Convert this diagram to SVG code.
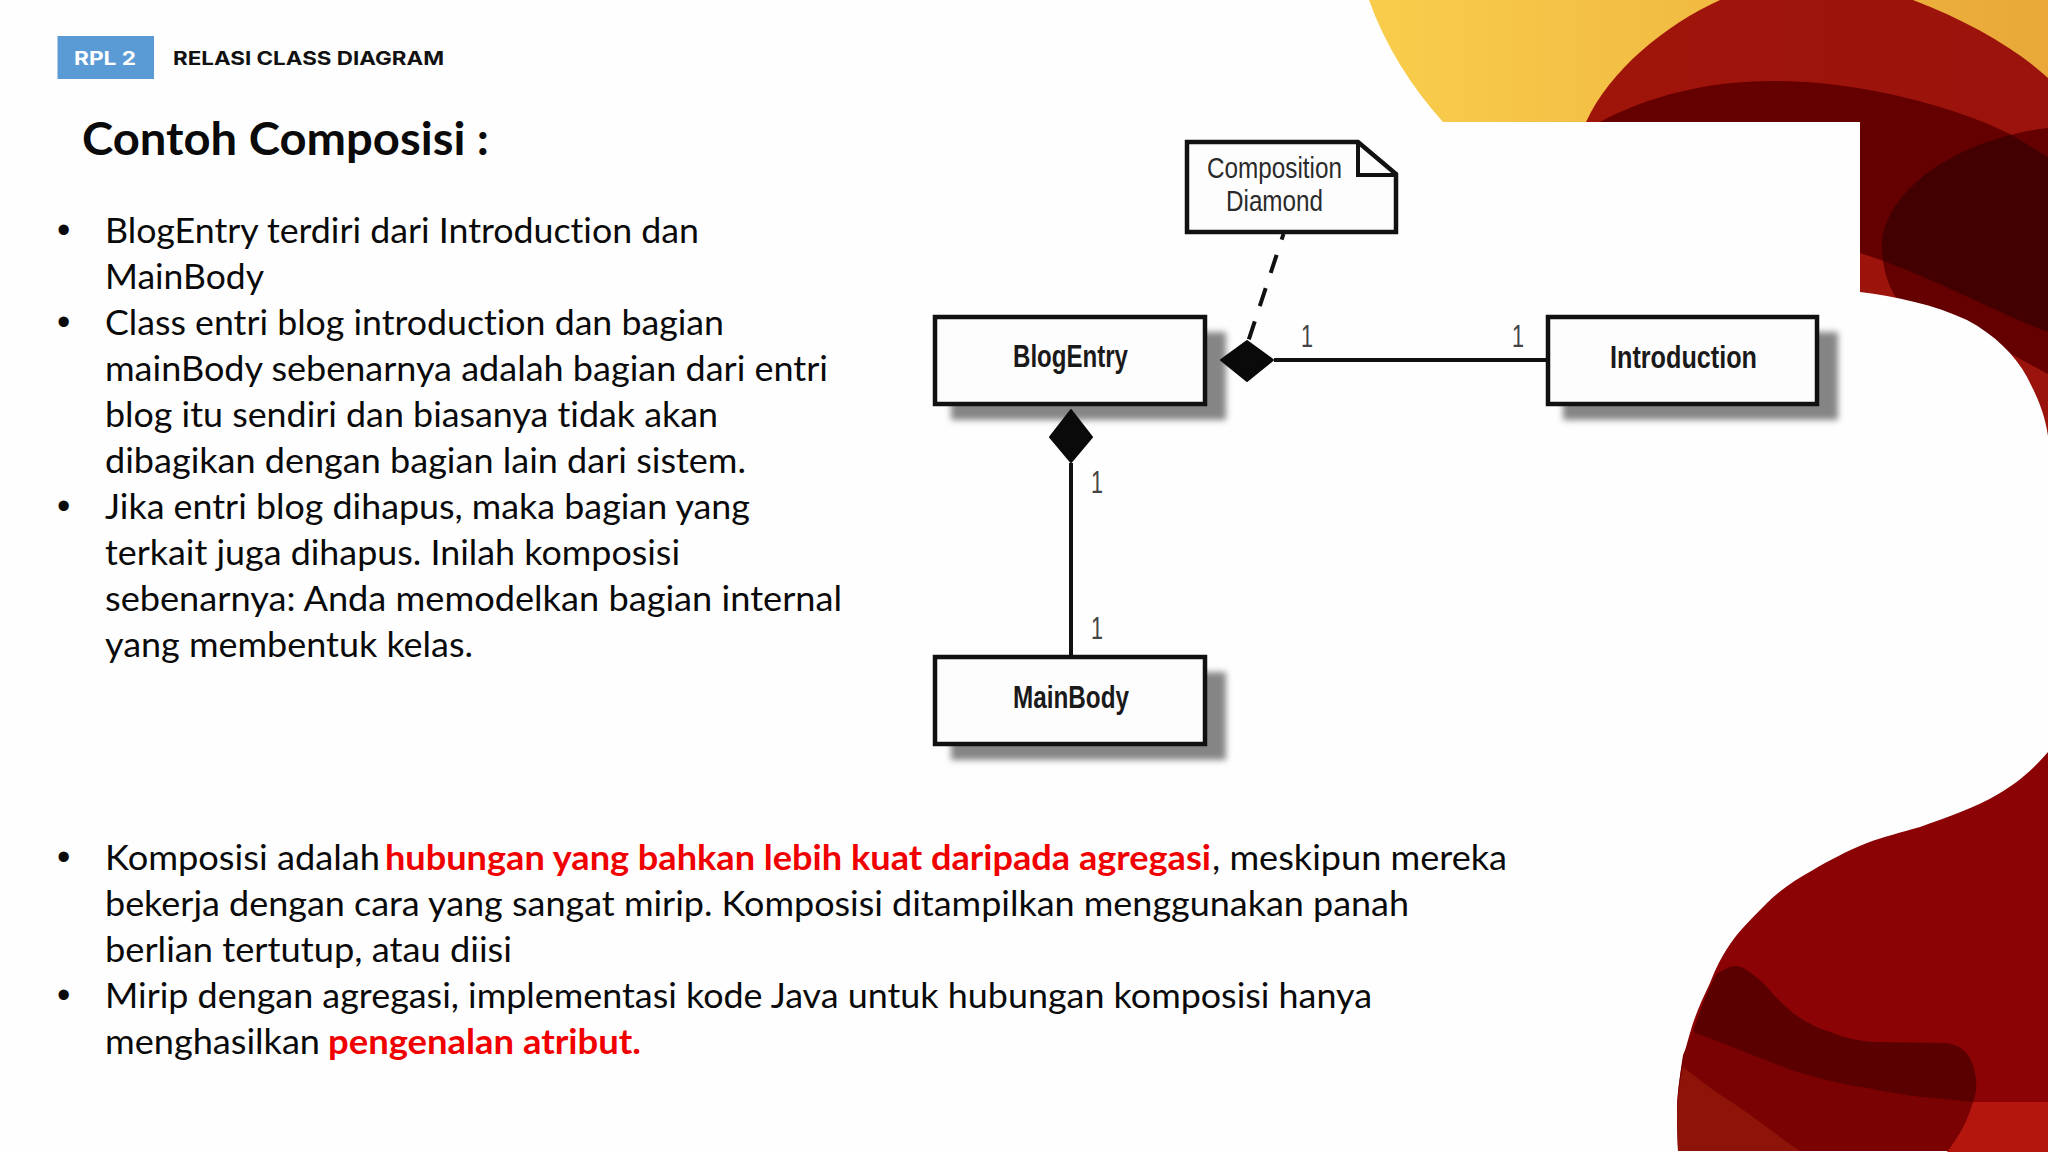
<svg xmlns="http://www.w3.org/2000/svg" width="2048" height="1152" viewBox="0 0 2048 1152">
<style>
.b{font-family:Lato,"Noto Sans",sans-serif;font-size:34.5px;fill:#0a0a0a;font-variant-ligatures:none}
.r{font-family:Lato,"Noto Sans",sans-serif;font-size:34.5px;font-weight:700;fill:#f00000;font-variant-ligatures:none}
.d{font-family:"Liberation Sans",sans-serif;font-size:38px;fill:#0a0a0a}
.box{fill:#fefdfe;stroke:#111;stroke-width:4.5}
.sh{fill:#858585;filter:url(#blur)}
.cn{font-family:"Liberation Sans",sans-serif;font-size:31px;font-weight:700;fill:#1a1a1a}
.nt{font-family:"Liberation Sans",sans-serif;font-size:30px;fill:#2a2a2a}
.m{font-family:"Liberation Sans",sans-serif;font-size:32px;fill:#444}
.ln{stroke:#111;stroke-width:4;fill:none}
.dm{fill:#0a0a0a;stroke:#0a0a0a;stroke-width:2;stroke-linejoin:round}
</style>
<defs>
<filter id="blur" x="-10%" y="-20%" width="120%" height="140%"><feGaussianBlur stdDeviation="3"/></filter>
<linearGradient id="yel" x1="1369" y1="0" x2="2048" y2="0" gradientUnits="userSpaceOnUse"><stop offset="0" stop-color="#f9cd4c"/><stop offset="1" stop-color="#e9a838"/></linearGradient>
<linearGradient id="red" x1="1586" y1="0" x2="2048" y2="0" gradientUnits="userSpaceOnUse"><stop offset="0" stop-color="#a0150a"/><stop offset="1" stop-color="#9a130c"/></linearGradient>
<clipPath id="bandClip"><path d="M1600 122C1650 95 1710 81 1773 81C1860 81 1950 105 2010 134L2048 157V332C2010 318 1960 292 1907 270C1890 263 1875 258 1860 253V122Z"/></clipPath>
</defs>
<rect width="2048" height="1152" fill="#fefefe"/>
<g id="background">
<path d="M1369 0C1385 45 1410 85 1443 122H2048V0Z" fill="url(#yel)"/>
<path d="M1586 122C1610 70 1665 25 1720 0H1913C1970 22 2015 48 2048 78V440H1586Z" fill="url(#red)"/>
<path d="M1600 122C1650 95 1710 81 1773 81C1860 81 1950 105 2010 134L2048 157V332C2010 318 1960 292 1907 270C1890 263 1875 258 1860 253V420H1600Z" fill="#640000"/>
<path d="M2048 128C1960 138 1880 190 1882 250C1884 285 1898 305 1915 318L2013 355L2048 374Z" fill="#640000"/>
<path clip-path="url(#bandClip)" d="M2048 128C1960 138 1880 190 1882 250C1884 285 1898 305 1915 318L2013 355L2048 374Z" fill="#420000"/>
<path d="M1400 122H1860V292C1895 296 1935 305 1967 320C1995 335 2015 355 2027 377C2038 398 2045 415 2048 436V800H1400Z" fill="#fefefe"/>
<path d="M2048 752C2030 773 2015 784 2000 793C1975 808 1945 818 1920 827C1900 833 1885 836 1867 843C1845 852 1830 860 1813 870C1795 880 1780 890 1767 903C1752 918 1742 928 1733 940C1722 955 1716 968 1710 983C1702 1000 1695 1015 1690 1033C1685 1050 1682 1062 1680 1077C1677 1095 1677 1105 1677 1117L1678 1151H2048Z" fill="#8b0304"/>
<path d="M1693 1032C1740 1048 1770 1063 1800 1073C1830 1082 1850 1086 1867 1088C1890 1093 1915 1098 1933 1098L1973 1102C1973 1120 1960 1135 1948 1151H1678L1677 1117C1677 1095 1680 1075 1683 1055Z" fill="#7a0202"/>
<path d="M1683 1067C1700 1080 1715 1092 1733 1103C1755 1118 1778 1136 1800 1151H1678L1677 1117C1677 1098 1680 1082 1683 1067Z" fill="#8e140a"/>
<path d="M1973 1102H2048V1152H1947C1960 1135 1968 1120 1973 1102Z" fill="#b4160e"/>
<path d="M1716 975C1728 966 1736 964 1743 968C1752 973 1760 980 1767 987C1775 997 1785 1006 1793 1013C1808 1024 1820 1029 1833 1033C1845 1038 1860 1041 1873 1042L1947 1043C1960 1045 1968 1052 1972 1063C1977 1075 1978 1090 1973 1102L1933 1098C1915 1097 1890 1093 1867 1088C1845 1085 1825 1080 1800 1073C1770 1063 1735 1047 1693 1032C1700 1010 1708 990 1716 975Z" fill="#5a0000"/>
</g>
<g id="header">
<rect x="57.5" y="36" width="96.5" height="43" fill="#5b9bd5"/>
<text x="74" y="65" font-family="Inter,sans-serif" font-size="19" font-weight="700" fill="#fff" textLength="62" lengthAdjust="spacingAndGlyphs">RPL 2</text>
<text x="173" y="65" font-family="Inter,sans-serif" font-size="19" font-weight="700" fill="#111" textLength="271" lengthAdjust="spacingAndGlyphs">RELASI CLASS DIAGRAM</text>
</g>
<text id="title" x="82" y="155" font-family="Lato,sans-serif" font-size="46" font-weight="700" fill="#0a0a0a" textLength="407" lengthAdjust="spacingAndGlyphs">Contoh Composisi :</text>
<g id="body-top">
<text class="d" x="57" y="243">•</text>
<text class="b" x="105" y="243" textLength="594" lengthAdjust="spacingAndGlyphs">BlogEntry terdiri dari Introduction dan</text>
<text class="b" x="105" y="289" textLength="159" lengthAdjust="spacingAndGlyphs">MainBody</text>
<text class="d" x="57" y="335">•</text>
<text class="b" x="105" y="335" textLength="619" lengthAdjust="spacingAndGlyphs">Class entri blog introduction dan bagian</text>
<text class="b" x="105" y="381" textLength="723" lengthAdjust="spacingAndGlyphs">mainBody sebenarnya adalah bagian dari entri</text>
<text class="b" x="105" y="427" textLength="613" lengthAdjust="spacingAndGlyphs">blog itu sendiri dan biasanya tidak akan</text>
<text class="b" x="105" y="473" textLength="641" lengthAdjust="spacingAndGlyphs">dibagikan dengan bagian lain dari sistem.</text>
<text class="d" x="57" y="519">•</text>
<text class="b" x="105" y="519" textLength="645" lengthAdjust="spacingAndGlyphs">Jika entri blog dihapus, maka bagian yang</text>
<text class="b" x="105" y="565" textLength="575" lengthAdjust="spacingAndGlyphs">terkait juga dihapus. Inilah komposisi</text>
<text class="b" x="105" y="611" textLength="737" lengthAdjust="spacingAndGlyphs">sebenarnya: Anda memodelkan bagian internal</text>
<text class="b" x="105" y="657" textLength="368" lengthAdjust="spacingAndGlyphs">yang membentuk kelas.</text>
</g>
<g id="body-bottom">
<text class="d" x="57" y="870">•</text>
<text class="b" x="105" y="870" textLength="275" lengthAdjust="spacingAndGlyphs">Komposisi adalah</text>
<text class="r" x="385" y="870" textLength="826" lengthAdjust="spacingAndGlyphs">hubungan yang bahkan lebih kuat daripada agregasi</text>
<text class="b" x="1212" y="870" textLength="295" lengthAdjust="spacingAndGlyphs">, meskipun mereka</text>
<text class="b" x="105" y="916" textLength="1304" lengthAdjust="spacingAndGlyphs">bekerja dengan cara yang sangat mirip. Komposisi ditampilkan menggunakan panah</text>
<text class="b" x="105" y="962" textLength="407" lengthAdjust="spacingAndGlyphs">berlian tertutup, atau diisi</text>
<text class="d" x="57" y="1008">•</text>
<text class="b" x="105" y="1008" textLength="1267" lengthAdjust="spacingAndGlyphs">Mirip dengan agregasi, implementasi kode Java untuk hubungan komposisi hanya</text>
<text class="b" x="105" y="1054" textLength="215" lengthAdjust="spacingAndGlyphs">menghasilkan</text>
<text class="r" x="328" y="1054" textLength="313" lengthAdjust="spacingAndGlyphs">pengenalan atribut.</text>
</g>
<g id="node-note">
<path class="box" stroke-width="4" d="M1187 142H1358L1396 174V232H1187Z"/>
<path class="ln" d="M1358 142V175H1396"/>
<text class="nt" x="1207" y="178" textLength="135" lengthAdjust="spacingAndGlyphs">Composition</text>
<text class="nt" x="1226" y="211" textLength="97" lengthAdjust="spacingAndGlyphs">Diamond</text>
</g>
<g id="node-blogentry">
<rect class="sh" x="951" y="332" width="275" height="88"/>
<rect class="box" x="935" y="317" width="270" height="87"/>
<text class="cn" x="1013" y="367" textLength="115" lengthAdjust="spacingAndGlyphs">BlogEntry</text>
</g>
<g id="node-mainbody">
<rect class="sh" x="951" y="672" width="275" height="88"/>
<rect class="box" x="935" y="657" width="270" height="87"/>
<text class="cn" x="1013" y="708" textLength="116" lengthAdjust="spacingAndGlyphs">MainBody</text>
</g>
<g id="node-introduction">
<rect class="sh" x="1563" y="332" width="275" height="88"/>
<rect class="box" x="1548" y="317" width="269" height="87"/>
<text class="cn" x="1610" y="368" textLength="147" lengthAdjust="spacingAndGlyphs">Introduction</text>
</g>
<g id="connectors">
<path class="ln" d="M1274 360H1547"/>
<path class="ln" d="M1071 463V655"/>
<path class="ln" d="M1283.5 234L1248 342" stroke-dasharray="19 16" stroke-dashoffset="13"/>
<path class="dm" d="M1221 360L1247 341L1273 360L1247 381Z"/>
<path class="dm" d="M1071 410L1092 437L1071 462L1050 437Z"/>
<text class="m" x="1301" y="347" textLength="12" lengthAdjust="spacingAndGlyphs">1</text>
<text class="m" x="1512" y="347" textLength="12" lengthAdjust="spacingAndGlyphs">1</text>
<text class="m" x="1091" y="493" textLength="12" lengthAdjust="spacingAndGlyphs">1</text>
<text class="m" x="1091" y="639" textLength="12" lengthAdjust="spacingAndGlyphs">1</text>
</g>
</svg>
